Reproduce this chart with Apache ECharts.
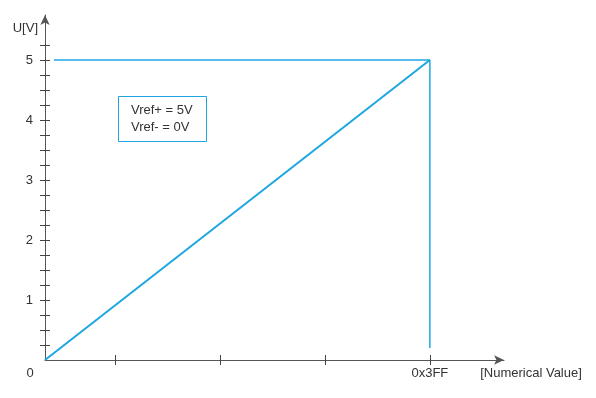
<!DOCTYPE html>
<html><head><meta charset="utf-8">
<script src="https://cdn.jsdelivr.net/npm/echarts@6/dist/echarts.min.js"></script>
<style>html,body{margin:0;padding:0;background:#fff}#c{width:596px;height:398px}</style>
</head><body><div id="c"></div>
<script>
const transferLine = [[0, 0], [1023, 5]];
const refTop = [[24, 5], [1023, 5]];
const refRight = [[1023, 5], [1023, 0.2]];
const xTickValues = [186, 465, 744, 1023];
const xLabelValues = [0, 1023];
const xLabelText = {0: '0', 1023: '0x3FF'};
const yTickValues = [0.25,0.5,0.75,1,1.25,1.5,1.75,2,2.25,2.5,2.75,3,3.25,3.5,3.75,4,4.25,4.5,4.75,5,5.25];
const yLabelValues = [1, 2, 3, 4, 5];
const noteLines = ['Vref+ = 5V', 'Vref- = 0V'];

const blue = '#1ea6e2';
const axisCol = '#555';
const font = '"Liberation Sans", Arial, sans-serif';
const fs = 13;
const chart = echarts.init(document.getElementById('c'));
const xBase = {type: 'value', min: 0, max: 1220, splitLine: {show: false}, position: 'bottom'};
const yBase = {type: 'value', min: 0, max: 5.75, splitLine: {show: false}, position: 'left'};
chart.setOption({
  backgroundColor: '#fff',
  animation: false,
  grid: {left: 45, right: 92, top: 15, bottom: 38},
  xAxis: [
    Object.assign({}, xBase, {
      name: '[Numerical Value]', nameLocation: 'end', nameGap: 27,
      nameTextStyle: {color: '#333', fontSize: fs, fontFamily: font, align: 'center', verticalAlign: 'top', padding: [7, 0, 0, 0]},
      axisLine: {onZero: false, lineStyle: {color: axisCol, width: 1}, symbol: ['none', 'arrow'], symbolSize: [7, 10]},
      axisTick: {show: true, inside: false, length: 5, customValues: xTickValues, lineStyle: {color: '#444'}},
      axisLabel: {show: true, customValues: xLabelValues, margin: 7, color: '#333', fontSize: fs, fontFamily: font,
        formatter: v => v === 0 ? '{o|0}' : xLabelText[v],
        rich: {o: {padding: [0, 30, 0, 0], color: '#333', fontSize: fs, fontFamily: font}}}
    }),
    Object.assign({}, xBase, {
      axisLine: {show: false, onZero: false},
      axisTick: {show: true, inside: true, length: 5, customValues: xTickValues, lineStyle: {color: '#444'}},
      axisLabel: {show: false}
    })
  ],
  yAxis: [
    Object.assign({}, yBase, {
      name: 'U[V]', nameLocation: 'end', nameGap: -13,
      nameTextStyle: {color: '#333', fontSize: fs, fontFamily: font, align: 'right', verticalAlign: 'middle', padding: [0, 7, 0, 0]},
      axisLine: {onZero: false, lineStyle: {color: axisCol, width: 1}, symbol: ['none', 'arrow'], symbolSize: [7, 10]},
      axisTick: {show: true, inside: false, length: 5, customValues: yTickValues, lineStyle: {color: '#444'}},
      axisLabel: {show: true, customValues: yLabelValues, margin: 12, color: '#333', fontSize: fs, fontFamily: font}
    }),
    Object.assign({}, yBase, {
      axisLine: {show: false, onZero: false},
      axisTick: {show: true, inside: true, length: 5, customValues: yTickValues, lineStyle: {color: '#444'}},
      axisLabel: {show: false}
    })
  ],
  series: [
    {type: 'line', data: transferLine, symbol: 'none', lineStyle: {color: blue, width: 2}, silent: true},
    {type: 'line', data: refTop, symbol: 'none', lineStyle: {color: blue, width: 1.5}, silent: true},
    {type: 'line', data: refRight, symbol: 'none', lineStyle: {color: blue, width: 1.5}, silent: true}
  ],
  graphic: [
    {type: 'rect', shape: {x: 118.5, y: 96.5, width: 88, height: 45}, style: {fill: '#fff', stroke: blue, lineWidth: 1}},
    {type: 'text', x: 131, y: 102, style: {text: noteLines.join('\n'), fill: '#333', fontSize: fs, fontFamily: font, lineHeight: 17}}
  ]
});
</script></body></html>
